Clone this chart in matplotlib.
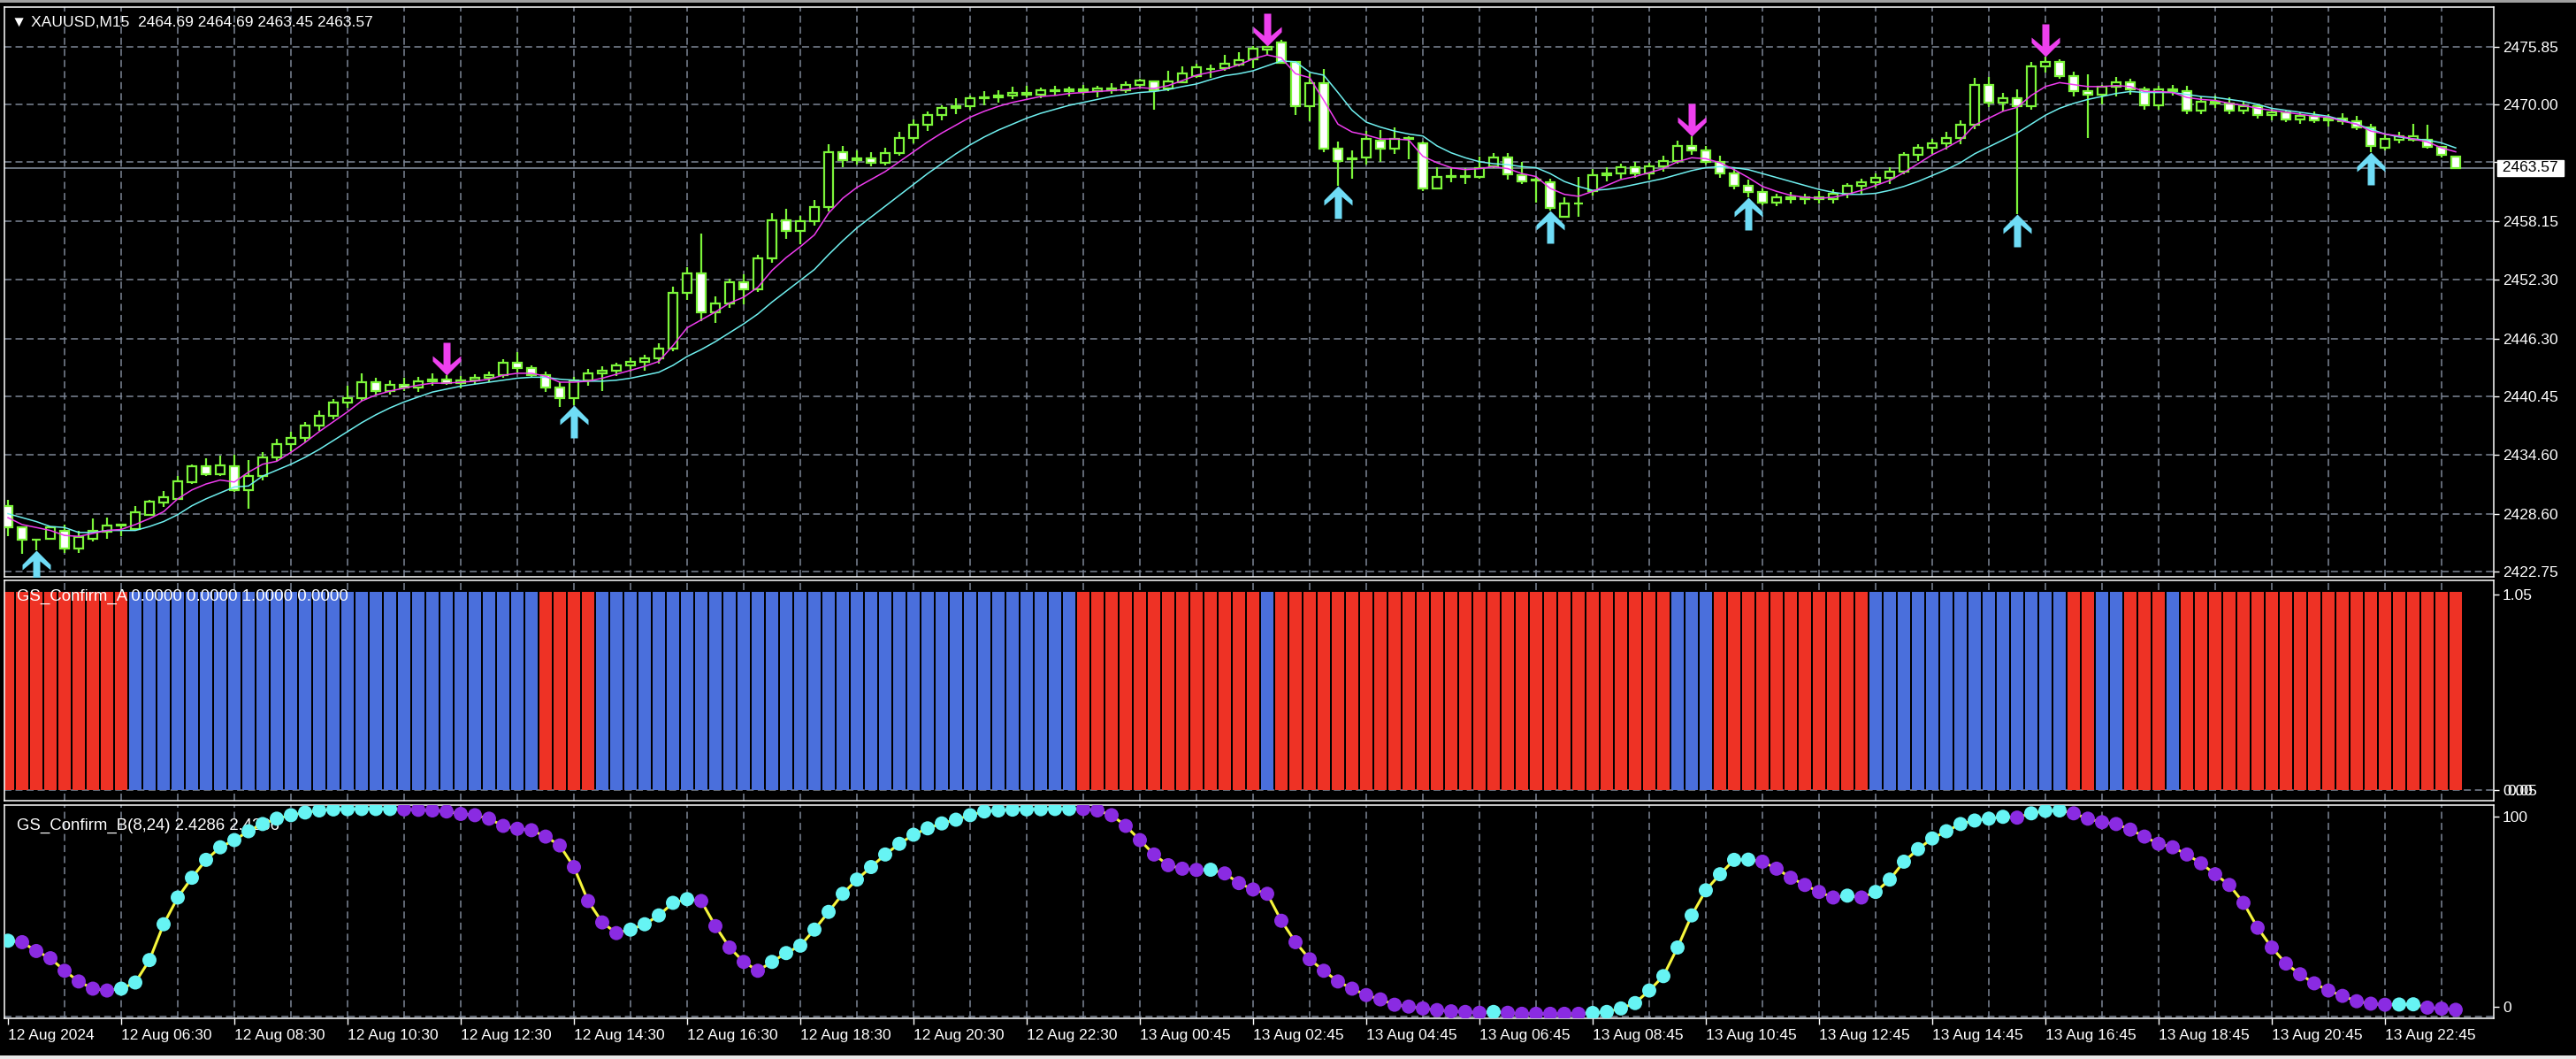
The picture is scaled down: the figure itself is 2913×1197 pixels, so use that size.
import numpy as np
import matplotlib
matplotlib.use("Agg")
import matplotlib.pyplot as plt
from matplotlib.path import Path
from matplotlib.patches import Rectangle
import matplotlib.transforms as mtransforms

plt.rcParams["font.family"] = ["Liberation Sans", "DejaVu Sans"]

# ---------------- data (XAUUSD M15, 174 bars) ----------------
opens = [
    2429.4, 2427.2, 2426.0, 2426.1, 2426.9, 2425.1, 2426.1, 2426.8, 2427.4, 2427.0,
    2428.5, 2429.7, 2430.1, 2431.8, 2433.4, 2432.6, 2433.4, 2431.0, 2432.4, 2434.3,
    2435.6, 2436.3, 2437.5, 2438.5, 2439.8, 2440.3, 2441.9, 2441.0, 2441.6, 2441.4,
    2442.0, 2442.2, 2441.8, 2442.1, 2442.3, 2442.6, 2443.9, 2443.3, 2442.6, 2441.4,
    2440.3, 2442.1, 2442.8, 2443.1, 2443.6, 2444.0, 2444.3, 2445.3, 2450.9, 2452.9,
    2449.0, 2449.9, 2452.0, 2451.3, 2454.4, 2458.3, 2457.2, 2458.2, 2459.6, 2465.2,
    2464.4, 2464.5, 2464.1, 2465.1, 2466.6, 2467.9, 2468.9, 2469.6, 2469.8, 2470.6,
    2470.7, 2470.9, 2471.2, 2471.0, 2471.4, 2471.3, 2471.5, 2471.3, 2471.6, 2471.4,
    2472.0, 2472.36, 2471.6, 2472.27, 2472.86, 2473.55, 2473.64, 2474.0, 2474.6, 2475.5,
    2476.3, 2474.3, 2469.8, 2472.15, 2465.55, 2464.45, 2464.6, 2466.3, 2465.5, 2466.5,
    2466.1, 2461.5, 2462.7, 2462.7, 2462.65, 2463.7, 2464.6, 2462.8, 2462.35, 2462.1,
    2458.6, 2459.97, 2461.2, 2462.8, 2463.0, 2463.6, 2463.0, 2463.7, 2464.3, 2465.8,
    2465.3, 2464.2, 2463.0, 2461.8, 2461.1, 2460.1, 2460.6, 2460.4, 2460.6, 2460.4,
    2461.0, 2461.8, 2462.1, 2462.6, 2463.2, 2464.9, 2465.6, 2466.1, 2466.6, 2467.9,
    2472.0, 2470.2, 2470.6, 2469.8, 2473.8, 2474.3, 2472.9, 2471.3, 2471.0, 2471.8,
    2472.2, 2471.5, 2469.9, 2471.5, 2471.3, 2469.4, 2470.3, 2470.1, 2469.4, 2469.8,
    2468.9, 2469.2, 2468.5, 2468.8, 2468.4, 2468.6, 2468.3, 2467.7, 2465.6, 2466.4,
    2466.4, 2466.4, 2465.7, 2464.69,
]
highs = [
    2430.0, 2427.3, 2426.1, 2427.3, 2427.5, 2426.9, 2428.1, 2428.2, 2427.6, 2429.4,
    2430.0, 2430.9, 2432.4, 2433.6, 2434.2, 2434.5, 2434.6, 2434.0, 2434.8, 2436.2,
    2436.9, 2437.9, 2439.0, 2440.2, 2441.5, 2442.8, 2442.3, 2442.1, 2442.3, 2442.4,
    2442.8, 2442.6, 2442.5, 2442.7, 2443.0, 2444.2, 2444.9, 2443.6, 2443.0, 2441.9,
    2442.4, 2443.2, 2443.5, 2443.9, 2444.4, 2444.7, 2445.8, 2451.6, 2453.5, 2456.9,
    2450.6, 2452.4, 2452.8, 2454.8, 2459.0, 2459.4, 2458.7, 2460.3, 2466.0, 2465.8,
    2465.3, 2465.2, 2465.6, 2467.2, 2468.5, 2469.3, 2469.9, 2470.6, 2470.9, 2471.3,
    2471.4, 2471.8, 2471.9, 2471.7, 2471.9, 2471.8, 2472.0, 2471.9, 2472.1, 2472.3,
    2472.6, 2472.4, 2473.4, 2473.85, 2474.15, 2474.0, 2475.04, 2475.25, 2475.93, 2475.9,
    2476.5, 2474.4, 2473.1, 2473.6, 2466.2, 2465.35, 2467.3, 2467.4, 2467.7, 2466.8,
    2466.2, 2463.6, 2463.55, 2463.55, 2464.75, 2465.05, 2465.05, 2464.15, 2462.65, 2462.5,
    2460.6, 2462.65, 2463.5, 2463.6, 2464.0, 2464.2, 2464.1, 2464.8, 2466.3, 2466.8,
    2465.8, 2464.8, 2463.6, 2462.4, 2461.5, 2461.0, 2461.1, 2461.0, 2461.2, 2461.4,
    2462.0, 2462.5, 2463.0, 2463.6, 2465.2, 2466.0, 2466.5, 2467.2, 2468.4, 2472.7,
    2472.8, 2471.2, 2471.5, 2474.3, 2474.8, 2474.6, 2473.3, 2473.0, 2472.0, 2472.8,
    2472.6, 2471.8, 2471.9, 2472.0, 2471.9, 2470.8, 2470.9, 2470.7, 2470.3, 2470.0,
    2469.6, 2469.5, 2469.2, 2469.3, 2469.0, 2469.1, 2468.8, 2468.0, 2467.0, 2467.2,
    2468.0, 2467.9, 2465.8, 2464.69,
]
lows = [
    2426.3, 2424.5, 2424.9, 2426.0, 2424.6, 2424.6, 2425.8, 2426.1, 2426.3, 2426.9,
    2428.4, 2429.3, 2430.0, 2431.6, 2432.4, 2432.4, 2430.8, 2429.1, 2432.0, 2433.9,
    2434.9, 2435.8, 2437.0, 2438.1, 2439.3, 2440.0, 2440.6, 2440.6, 2441.0, 2440.9,
    2441.5, 2441.6, 2441.3, 2441.7, 2441.9, 2442.3, 2442.9, 2442.3, 2440.9, 2439.4,
    2439.6, 2441.5, 2441.0, 2442.5, 2443.0, 2443.1, 2443.8, 2445.0, 2450.2, 2448.1,
    2447.9, 2449.4, 2449.8, 2451.0, 2454.0, 2456.4, 2455.9, 2457.7, 2459.2, 2463.6,
    2463.9, 2463.7, 2463.8, 2464.8, 2466.1, 2467.3, 2468.4, 2469.0, 2469.5, 2469.9,
    2470.2, 2470.5, 2470.7, 2470.6, 2470.9, 2470.8, 2471.0, 2470.7, 2471.1, 2471.2,
    2471.6, 2469.5, 2471.3, 2472.2, 2472.65, 2472.65, 2473.4, 2473.85, 2473.7, 2475.0,
    2474.1, 2468.9, 2468.3, 2465.2, 2461.8, 2462.5, 2463.9, 2464.2, 2465.0, 2464.45,
    2461.2, 2461.4, 2462.1, 2461.9, 2462.5, 2463.55, 2462.4, 2461.9, 2460.1, 2459.3,
    2458.5, 2458.6, 2460.8, 2462.2, 2462.5, 2462.6, 2462.4, 2463.2, 2464.0, 2464.9,
    2463.9, 2462.6, 2461.4, 2460.6, 2459.8, 2459.7, 2460.0, 2459.9, 2460.0, 2460.0,
    2460.5, 2461.0, 2461.6, 2461.9, 2462.9, 2464.3, 2465.0, 2465.4, 2466.0, 2467.5,
    2469.7, 2469.3, 2458.9, 2469.5, 2473.2, 2472.6, 2470.8, 2466.6, 2470.0, 2470.8,
    2471.0, 2469.5, 2469.5, 2470.9, 2469.0, 2469.0, 2469.6, 2469.0, 2469.0, 2468.6,
    2468.4, 2468.2, 2468.0, 2468.1, 2467.8, 2467.9, 2467.4, 2465.2, 2465.3, 2466.1,
    2466.2, 2465.5, 2464.6, 2463.45,
]
closes = [
    2427.2, 2426.0, 2426.0, 2427.2, 2425.1, 2426.2, 2426.9, 2427.4, 2427.5, 2428.7,
    2429.8, 2430.3, 2431.9, 2433.4, 2432.6, 2433.5, 2431.0, 2432.4, 2434.3, 2435.6,
    2436.3, 2437.5, 2438.5, 2439.8, 2440.3, 2441.9, 2441.0, 2441.6, 2441.4, 2442.0,
    2442.2, 2441.8, 2442.1, 2442.3, 2442.6, 2443.9, 2443.3, 2442.6, 2441.4, 2440.3,
    2442.1, 2442.8, 2443.1, 2443.6, 2444.0, 2444.3, 2445.3, 2450.9, 2452.9, 2449.0,
    2449.9, 2452.0, 2451.3, 2454.4, 2458.3, 2457.2, 2458.2, 2459.6, 2465.2, 2464.4,
    2464.5, 2464.1, 2465.1, 2466.6, 2467.9, 2468.9, 2469.6, 2469.8, 2470.6, 2470.7,
    2470.9, 2471.2, 2471.0, 2471.4, 2471.3, 2471.5, 2471.3, 2471.6, 2471.4, 2472.0,
    2472.4, 2471.46, 2472.35, 2473.1, 2473.76, 2473.6, 2474.15, 2474.5, 2475.6, 2475.8,
    2474.2, 2469.8, 2472.15, 2465.5, 2464.3, 2464.5, 2466.5, 2465.5, 2466.5, 2466.6,
    2461.5, 2462.7, 2462.75, 2462.75, 2463.55, 2464.6, 2462.96, 2462.2, 2462.3, 2459.5,
    2459.97, 2460.0, 2462.8, 2463.0, 2463.6, 2463.0, 2463.7, 2464.3, 2465.8, 2465.3,
    2464.2, 2463.0, 2461.8, 2461.1, 2460.1, 2460.6, 2460.4, 2460.6, 2460.4, 2461.0,
    2461.8, 2462.1, 2462.6, 2463.2, 2464.9, 2465.6, 2466.1, 2466.6, 2467.9, 2472.0,
    2470.2, 2470.6, 2469.8, 2473.8, 2474.3, 2472.9, 2471.3, 2471.0, 2471.8, 2472.2,
    2471.5, 2469.9, 2471.5, 2471.3, 2469.4, 2470.3, 2470.1, 2469.4, 2469.8, 2468.9,
    2469.2, 2468.5, 2468.8, 2468.4, 2468.6, 2468.3, 2467.7, 2465.8, 2466.5, 2466.8,
    2466.8, 2465.7, 2464.9, 2463.57,
]
ma_fast = [
    2428.2, 2427.5, 2427.2, 2426.9, 2426.4, 2426.3, 2426.6, 2426.9, 2427.0, 2427.5,
    2428.1, 2428.8, 2430.1, 2431.0, 2431.6, 2432.0, 2431.8, 2432.8, 2433.6, 2433.9,
    2434.8, 2435.8, 2436.9, 2437.9, 2438.9, 2440.0, 2440.6, 2441.0, 2441.3, 2441.6,
    2441.8, 2441.8, 2441.9, 2442.0, 2442.2, 2442.6, 2442.8, 2442.8, 2442.5, 2441.9,
    2441.9, 2442.0, 2442.3, 2442.7, 2443.1, 2443.5, 2444.0, 2445.6, 2447.4, 2448.2,
    2449.0, 2449.9, 2450.5, 2451.5, 2453.2, 2454.5, 2455.6, 2456.8, 2459.0, 2460.5,
    2461.6, 2462.4, 2463.2, 2464.2, 2465.2, 2466.2, 2467.1, 2467.9, 2468.7, 2469.3,
    2469.8, 2470.2, 2470.5, 2470.8, 2470.9, 2471.1, 2471.2, 2471.3, 2471.4, 2471.5,
    2471.7, 2471.6, 2471.9, 2472.4, 2472.95, 2473.25, 2473.55, 2474.0, 2474.6, 2475.0,
    2474.7, 2473.1, 2472.7, 2470.4, 2468.0, 2467.2, 2466.9, 2466.5, 2466.5, 2466.4,
    2464.75, 2464.1, 2463.6, 2463.4, 2463.5, 2463.7, 2463.5, 2463.0, 2462.7, 2461.5,
    2460.9, 2460.7, 2461.2, 2461.8, 2462.4, 2462.7, 2463.1, 2463.5, 2464.2, 2464.6,
    2464.5, 2464.1, 2463.4, 2462.6, 2461.7, 2461.2, 2460.8, 2460.6, 2460.5, 2460.6,
    2460.9, 2461.3, 2461.8, 2462.3, 2463.1, 2464.0, 2464.9, 2465.6, 2466.4, 2467.9,
    2468.6, 2469.3, 2469.7, 2470.9, 2471.8, 2472.2, 2472.0, 2471.8, 2471.8, 2471.9,
    2471.8, 2471.3, 2471.3, 2471.2, 2470.7, 2470.5, 2470.4, 2470.1, 2469.9, 2469.6,
    2469.4, 2469.2, 2469.0, 2468.8, 2468.7, 2468.3, 2468.0, 2467.3, 2467.0, 2466.8,
    2466.5, 2466.2, 2465.6, 2465.2,
]
ma_slow = [
    2428.6, 2428.2, 2427.8, 2427.3, 2427.2, 2426.7, 2426.7, 2426.9, 2426.9, 2426.9,
    2427.3, 2427.8, 2428.5, 2429.4, 2430.1, 2430.7, 2431.3, 2431.4, 2432.4, 2433.0,
    2433.6, 2434.3, 2435.1, 2436.0, 2436.9, 2437.8, 2438.6, 2439.3, 2439.9, 2440.4,
    2440.9, 2441.2, 2441.5, 2441.7, 2441.9, 2442.1, 2442.3, 2442.4, 2442.4, 2442.2,
    2442.1, 2442.0, 2442.0, 2442.1, 2442.3, 2442.6, 2442.9, 2443.6, 2444.5, 2445.2,
    2446.0, 2446.9, 2447.8, 2448.8, 2450.0, 2451.1, 2452.2, 2453.3, 2454.8, 2456.2,
    2457.5, 2458.6, 2459.7, 2460.8, 2461.9, 2463.0, 2464.0, 2465.0, 2465.9, 2466.7,
    2467.4, 2468.0, 2468.6, 2469.1, 2469.5, 2469.9, 2470.2, 2470.5, 2470.8, 2471.0,
    2471.2, 2471.3, 2471.5, 2471.8, 2472.06, 2472.5, 2472.9, 2473.1, 2473.4, 2473.9,
    2474.4, 2474.3, 2473.25, 2472.95, 2471.2, 2469.4, 2468.2, 2467.7, 2467.3, 2467.0,
    2466.8, 2465.8, 2465.1, 2464.6, 2464.2, 2464.0, 2463.9, 2463.7, 2463.6, 2463.0,
    2462.2, 2461.7, 2461.3, 2461.4, 2461.6, 2461.9, 2462.2, 2462.5, 2462.9, 2463.3,
    2463.6, 2463.7, 2463.6, 2463.4, 2463.0, 2462.6, 2462.2, 2461.8, 2461.4, 2461.1,
    2460.9, 2460.9, 2461.0, 2461.3, 2461.7, 2462.2, 2462.8, 2463.4, 2464.1, 2465.0,
    2465.7, 2466.4, 2467.1, 2468.0, 2468.9, 2469.6, 2470.1, 2470.5, 2470.8, 2471.1,
    2471.3, 2471.2, 2471.2, 2471.2, 2471.0, 2470.8, 2470.7, 2470.5, 2470.3, 2470.0,
    2469.6, 2469.4, 2469.2, 2469.0, 2468.8, 2468.4, 2468.0, 2467.5, 2467.0, 2466.7,
    2466.5, 2466.4, 2466.1, 2465.6,
]
sell_arrows = [31, 89, 119, 144]
buy_arrows = [2, 40, 94, 109, 123, 142, 167]
last_price = 2463.57
price_ticks = [2475.85, 2470.00, 2464.15, 2458.15, 2452.30, 2446.30,
               2440.45, 2434.60, 2428.60, 2422.75]
price_labels = ["2475.85", "2470.00", "", "2458.15", "2452.30", "2446.30",
                "2440.45", "2434.60", "2428.60", "2422.75"]
time_labels = ["12 Aug 2024", "12 Aug 06:30", "12 Aug 08:30", "12 Aug 10:30",
               "12 Aug 12:30", "12 Aug 14:30", "12 Aug 16:30", "12 Aug 18:30",
               "12 Aug 20:30", "12 Aug 22:30", "13 Aug 00:45", "13 Aug 02:45",
               "13 Aug 04:45", "13 Aug 06:45", "13 Aug 08:45", "13 Aug 10:45",
               "13 Aug 12:45", "13 Aug 14:45", "13 Aug 16:45", "13 Aug 18:45",
               "13 Aug 20:45", "13 Aug 22:45"]

# GS_Confirm_A histogram: runs of (colour, number of bars)
confirm_a_runs = [("r", 9), ("b", 29), ("r", 4), ("b", 34), ("r", 13), ("b", 1),
                  ("r", 28), ("b", 3), ("r", 11), ("b", 14), ("r", 2), ("b", 2),
                  ("r", 3), ("b", 1), ("r", 20)]

# GS_Confirm_B oscillator values and dot colours (c = cyan, p = purple)
confirm_b = [
    36, 35.3, 31, 27.5, 21.4, 16.2, 12.7, 11.8, 12.7, 15.7,
    26.6, 44, 57, 66.6, 75.3, 81.4, 84.9, 89.2, 92.7, 95.3,
    97, 98.3, 99.3, 99.8, 99.9, 100, 100, 100, 99.8, 99.6,
    99.3, 98.8, 97.6, 97, 95.3, 91.8, 90.4, 89.7, 86.6, 82.3,
    71.8, 55.3, 44.9, 39.7, 41.4, 44, 48.3, 54.4, 56.2, 55.3,
    43.1, 32.7, 25.7, 21.4, 25.7, 30, 33.6, 41.4, 50, 58.8,
    65.7, 71.8, 77.9, 83.1, 87.5, 90.6, 93, 94.8, 97, 98.8,
    99.3, 99.7, 99.8, 99.9, 100, 100, 100, 99.3, 97, 91.8,
    84.9, 77.9, 72.7, 71, 70.4, 70.5, 68.7, 64, 60.9, 58.8,
    45.7, 35.3, 27, 21.4, 16.2, 12.7, 9.6, 7.5, 4.9, 4,
    3.1, 2.3, 1.7, 1.4, 1, 1.4, 1, 0.5, 0.5, 0.5,
    0.5, 0.5, 0.9, 1.4, 3.1, 5.7, 11.8, 18.8, 32.7, 48.3,
    60.5, 68.3, 75.3, 75.4, 74.4, 71, 66.6, 63.1, 59.7, 57,
    57.9, 57, 59.7, 65.7, 74.4, 80.5, 85.7, 89.2, 92.7, 94.4,
    95.3, 96.2, 95.8, 97.9, 99.1, 99.3, 97.9, 95.3, 93.6, 92.7,
    90, 86.6, 83.1, 81.4, 77.9, 73.6, 68.3, 63.1, 54.4, 42.3,
    32.7, 24.9, 19.7, 15.3, 11.8, 9.2, 6.6, 5.4, 4.9, 5,
    5.1, 3.5, 3.0, 2.43,
]
confirm_b_runs = [("c", 1), ("p", 7), ("c", 20), ("p", 16), ("c", 5), ("p", 5),
                  ("c", 22), ("p", 9), ("c", 1), ("p", 19), ("c", 1), ("p", 6),
                  ("c", 12), ("p", 6), ("c", 1), ("p", 1), ("c", 10), ("p", 1),
                  ("c", 3), ("p", 23), ("c", 2), ("p", 3)]

# ---------------- colours ----------------
GRID = "#7d8696"
CANDLE = "#7cf53a"
MA_FAST = "#f03cf0"
MA_SLOW = "#6ff0f0"
SELL = "#ee40ee"
BUY = "#6fdcf6"
RED = "#ee3225"
BLUE = "#4a6fdc"
DOT_C = "#66f4f4"
DOT_P = "#8a2be2"
YEL = "#f6f63c"

W, H, DPI = 2913, 1197, 100
fig = plt.figure(figsize=(W / DPI, H / DPI), dpi=DPI, facecolor="black")

def px_axes(x0, y0, x1, y1):
    return fig.add_axes([x0 / W, 1 - y1 / H, (x1 - x0) / W, (y1 - y0) / H])

ax1 = px_axes(5, 8, 2820, 652)
ax2 = px_axes(5, 656, 2820, 905)
ax3 = px_axes(5, 910, 2820, 1151)

n = len(closes)
idx = np.arange(n)
grid_kw = dict(color=GRID, lw=1.1, ls=(0, (5.2, 3.0)), zorder=0)
FS = 12.5
HFS = 13.4

for ax in (ax1, ax2, ax3):
    ax.set_facecolor("black")
    ax.set_xlim(-0.25, 175.69)
    for s in ax.spines.values():
        s.set_color("white")
        s.set_linewidth(1.1)
    ax.yaxis.tick_right()
    ax.tick_params(axis="y", colors="white", length=4.3, width=1.0,
                   labelsize=FS, pad=2.9)
    ax.tick_params(axis="x", length=0)
    ax.set_xticks([])
    for g in range(4, n, 4):
        ax.axvline(g, **grid_kw)

# ---------------- main price panel ----------------
ax1.set_ylim(2422.21, 2479.84)
ax1.set_yticks(price_ticks)
ax1.set_yticklabels(price_labels)
for p in price_ticks:
    ax1.axhline(p, **grid_kw)
ax1.axhline(last_price, color="#8a94a3", lw=1.1, zorder=1)

o = np.array(opens); h = np.array(highs); l = np.array(lows); c = np.array(closes)
bull = c >= o
ax1.vlines(idx, l, h, color=CANDLE, lw=1.6, zorder=3)
ax1.bar(idx, np.abs(c - o), bottom=np.minimum(o, c), width=0.6,
        color=np.where(bull, "black", "white"), edgecolor=CANDLE,
        linewidth=1.6, zorder=4)
ax1.plot(idx, ma_slow, color=MA_SLOW, lw=1.1, zorder=5)
ax1.plot(idx, ma_fast, color=MA_FAST, lw=1.1, zorder=6)

# arrow markers, tip at (0, 0); sizes in pixels
arrow_v = [(0, 0), (16, 16), (16, 22), (4, 12), (4, 37), (-4, 37), (-4, 12),
           (-16, 22), (-16, 16), (0, 0)]
down_path = Path(arrow_v, closed=True)
up_path = Path([(x, -y) for x, y in arrow_v], closed=True)
ms = 2 * 37 * 72 / DPI
ax1.plot(sell_arrows, [highs[i] for i in sell_arrows], ls="none",
         marker=down_path, ms=ms, mfc=SELL, mew=0, zorder=7)
ax1.plot(buy_arrows, [lows[i] for i in buy_arrows], ls="none",
         marker=up_path, ms=ms, mfc=BUY, mew=0, zorder=7)

tr = mtransforms.blended_transform_factory(ax1.transAxes, ax1.transData)
tr = mtransforms.offset_copy(tr, fig=fig, x=5, y=0, units="dots")
ax1.text(1.0, last_price, " 2463.57 ", transform=tr, ha="left", va="center",
         fontsize=FS, color="black", clip_on=False, zorder=10,
         bbox=dict(boxstyle="square,pad=0.08", fc="white", ec="white"))

fig.text(13 / W, 1 - 25 / H, "\u25bc XAUUSD,M15  2464.69 2464.69 2463.45 2463.57",
         color="white", fontsize=FS, ha="left", va="center")

# ---------------- GS_Confirm_A ----------------
a_colors = []
for col, cnt in confirm_a_runs:
    a_colors += [RED if col == "r" else BLUE] * cnt
ax2.set_ylim(-0.053, 1.056)
ax2.axhline(0, **grid_kw)
ax2.bar(idx, np.ones(n), width=0.875, color=a_colors, linewidth=0, zorder=2)
ax2.set_yticks([0.985, 0.0])
ax2.set_yticklabels(["1.05", "0.00"])
tr2 = mtransforms.offset_copy(
    mtransforms.blended_transform_factory(ax2.transAxes, ax2.transData),
    fig=fig, x=15, y=0, units="dots")
ax2.text(1.0, 0.0, "0.05", transform=tr2, ha="left", va="center_baseline",
         fontsize=FS, color="white", clip_on=False)
ax2.text(14 / 2815, 0.976, "GS_Confirm_A 0.0000 0.0000 1.0000 0.0000",
         transform=mtransforms.blended_transform_factory(ax2.transAxes, ax2.transData),
         color="white", fontsize=HFS, ha="left", va="center", zorder=5)

# ---------------- GS_Confirm_B ----------------
b_colors = []
for col, cnt in confirm_b_runs:
    b_colors += [DOT_C if col == "c" else DOT_P] * cnt
ax3.set_ylim(-1.7, 101.9)
ax3.axhline(-0.9, **grid_kw)
ax3.text(14 / 2815, 92.0, "GS_Confirm_B(8,24) 2.4286 2.4286",
         transform=mtransforms.blended_transform_factory(ax3.transAxes, ax3.transData),
         color="white", fontsize=HFS, ha="left", va="center", zorder=2)
ax3.plot(idx, confirm_b, color=YEL, lw=2.2, zorder=3)
ax3.scatter(idx, confirm_b, s=11.5 ** 2, c=b_colors, linewidths=0, zorder=4)
ax3.set_yticks([96.3, 3.9])
ax3.set_yticklabels(["100", "0"])

ax3.set_xticks(idx[::8])
ax3.set_xticklabels(time_labels, ha="left")
ax3.tick_params(axis="x", colors="white", length=5, width=1.0, direction="out",
                labelsize=FS, pad=3.6)

# window borders
fig.patches.append(Rectangle((0, 1 - 3 / H), 1, 3 / H, transform=fig.transFigure,
                             fc="#a0a0a0", ec="none"))
fig.patches.append(Rectangle((0, 0), 1, 4 / H, transform=fig.transFigure,
                             fc="#e8e8e8", ec="none"))

fig.savefig("out.png", dpi=DPI, facecolor="black")
